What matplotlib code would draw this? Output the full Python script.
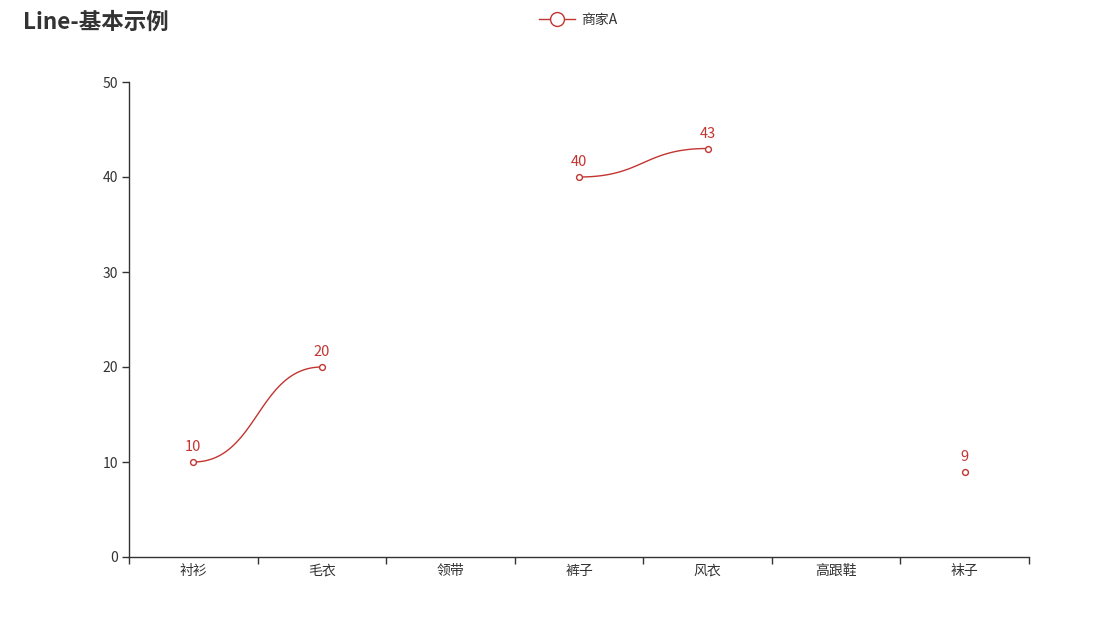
import numpy as np
import matplotlib
matplotlib.use("Agg")
import matplotlib.pyplot as plt
from matplotlib.lines import Line2D

plt.rcParams['font.family'] = ['Noto Sans CJK SC', 'DejaVu Sans']

categories = ["衬衫", "毛衣", "领带", "裤子", "风衣", "高跟鞋", "袜子"]
values = [10, 20, None, 40, 43, None, 9]
series_name = "商家A"
title = "Line-基本示例"
yticks = [0, 10, 20, 30, 40, 50]

color = "#c23531"
axis_color = "#333333"

fig = plt.figure(figsize=(10.95, 6.17), dpi=100)
ax = fig.add_axes([129/1095, 60/617, 900/1095, 475/617])

segments = []
cur = []
for i, v in enumerate(values):
    if v is None:
        if cur:
            segments.append(cur)
        cur = []
    else:
        cur.append((i, v))
if cur:
    segments.append(cur)

t = np.linspace(0, 1, 60)
for seg in segments:
    if len(seg) < 2:
        continue
    xs_all, ys_all = [], []
    for (x0, y0), (x1, y1) in zip(seg[:-1], seg[1:]):
        c1 = (x0 + 0.5 * (x1 - x0), y0)
        c2 = (x1 - 0.5 * (x1 - x0), y1)
        bx = (1-t)**3*x0 + 3*(1-t)**2*t*c1[0] + 3*(1-t)*t**2*c2[0] + t**3*x1
        by = (1-t)**3*y0 + 3*(1-t)**2*t*c1[1] + 3*(1-t)*t**2*c2[1] + t**3*y1
        xs_all.extend(bx); ys_all.extend(by)
    ax.plot(xs_all, ys_all, color=color, lw=1.0, zorder=2)

px = [i for i, v in enumerate(values) if v is not None]
py = [v for v in values if v is not None]
ax.plot(px, py, ls='none', marker='o', ms=4.2, mfc='white', mec=color, mew=1.0, zorder=3)
for x, y in zip(px, py):
    ax.annotate(str(y), (x, y), xytext=(0, 5.5), textcoords='offset points',
                ha='center', va='bottom', color=color, fontsize=10.5)

ax.set_xlim(-0.5, len(categories) - 0.5)
ax.set_ylim(0, 50)
ax.set_yticks(yticks)
ax.set_yticklabels([str(v) for v in yticks])
ax.set_xticks(np.arange(-0.5, len(categories), 1.0))
ax.set_xticklabels([])
ax.set_xticks(np.arange(len(categories)), minor=True)
ax.set_xticklabels(categories, minor=True)
ax.tick_params(axis='x', which='minor', length=0, pad=5, labelsize=10, labelcolor=axis_color)
ax.tick_params(axis='x', which='major', length=5, color=axis_color, width=1)
ax.tick_params(axis='y', length=5, color=axis_color, width=1, labelsize=10, labelcolor=axis_color, pad=3)

for s in ['top', 'right']:
    ax.spines[s].set_visible(False)
for s in ['left', 'bottom']:
    ax.spines[s].set_color(axis_color)
    ax.spines[s].set_linewidth(1)

fig.text(23/1095, 1 - 22/617, title, fontsize=16.2, fontweight='bold', color=axis_color,
         ha='left', va='center')

handle = Line2D([], [], color=color, lw=1, marker='o', ms=10, mfc='white', mec=color, mew=1)
fig.legend([handle], [series_name], loc='center', bbox_to_anchor=(578/1095, 1 - 20/617),
           frameon=False, fontsize=10, handlelength=2.6, handletextpad=0.4,
           labelcolor=axis_color)

fig.savefig("out.png", dpi=100)
